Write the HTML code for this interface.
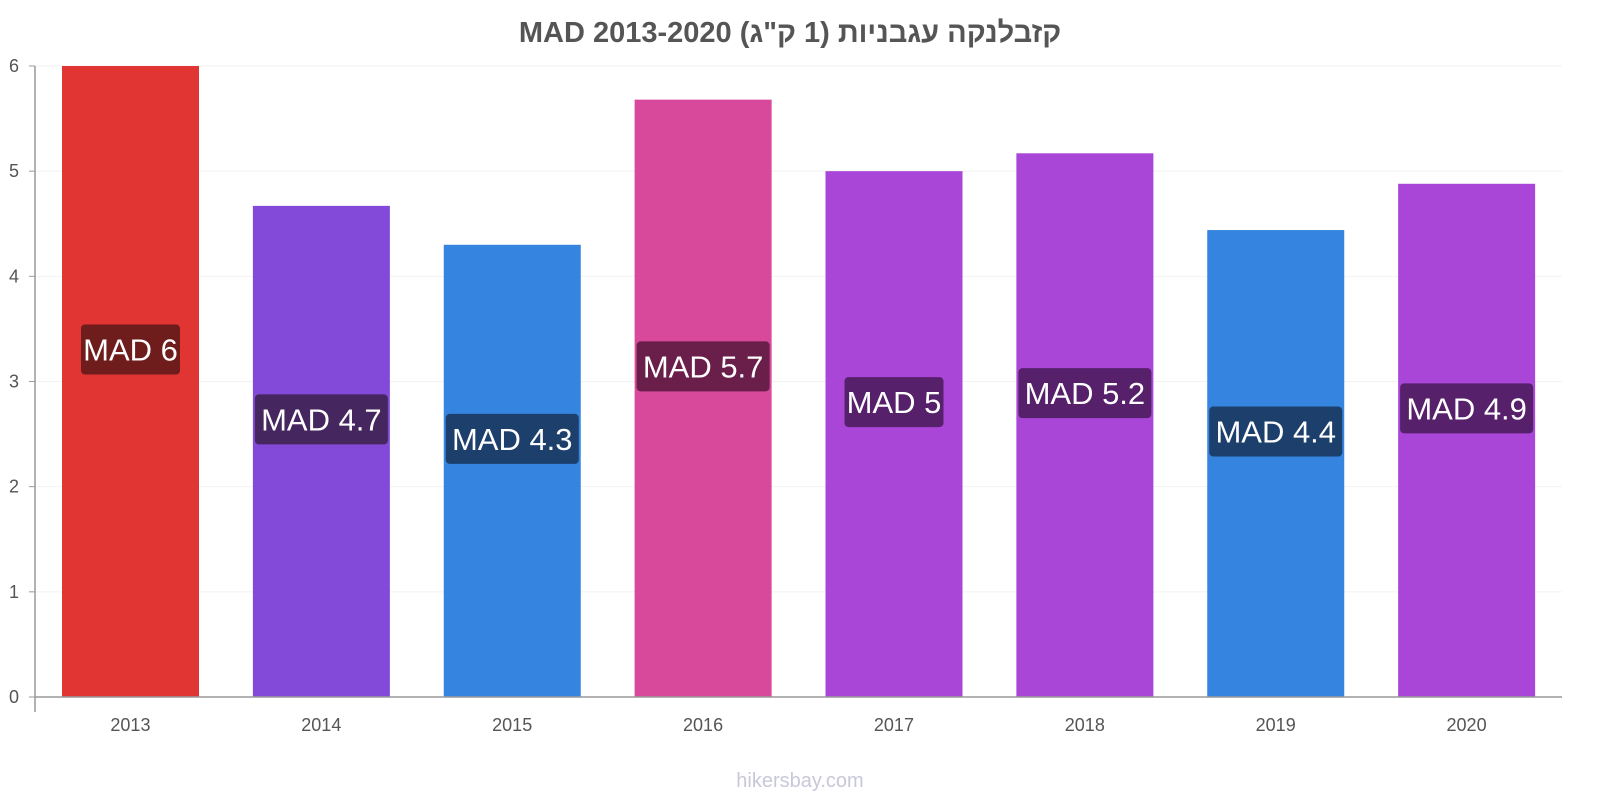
<!DOCTYPE html>
<html><head><meta charset="utf-8"><style>
body{margin:0;background:#fff;width:1600px;height:800px;overflow:hidden;font-family:"Liberation Sans",sans-serif}
</style></head><body>
<svg id="chart" width="1600" height="800" xmlns="http://www.w3.org/2000/svg">
<text x="790" y="42" text-anchor="middle" direction="rtl" font-size="29" font-weight="bold" fill="#555" font-family="Liberation Sans, DejaVu Sans, sans-serif">קזבלנקה עגבניות (1 ק"ג) MAD 2013-2020</text>
<g id="grid"></g><g id="bars"></g><g id="axes"></g>
<text x="800" y="787" text-anchor="middle" font-size="20" fill="#c8c8d8">hikersbay.com</text>
</svg>
<script>
const categories=["2013","2014","2015","2016","2017","2018","2019","2020"];
const values=[6,4.67,4.3,5.68,5.0,5.17,4.44,4.88];
const valueLabels=["MAD 6","MAD 4.7","MAD 4.3","MAD 5.7","MAD 5","MAD 5.2","MAD 4.4","MAD 4.9"];
const barColors=["#e03532","#8349d8","#3584e0","#d8489b","#a946d8","#a946d8","#3584e0","#a946d8"];
const labelColors=["#6e1c1c","#45265f","#1c3f6c","#6a1f4a","#56206b","#56206b","#1c3f6c","#56206b"];
const yTicks=[0,1,2,3,4,5,6];
const NS="http://www.w3.org/2000/svg";
const x0=35,x1=1562,y0=697,yTop=66,yMax=6;
const band=(x1-x0)/categories.length;
const xs=i=>x0+band*i;
const ys=v=>y0-(v/yMax)*(y0-yTop);
function mk(t,a,p){const e=document.createElementNS(NS,t);for(const k in a)e.setAttribute(k,a[k]);p.appendChild(e);return e;}
const grid=document.getElementById('grid'),bars=document.getElementById('bars'),axes=document.getElementById('axes');
yTicks.forEach(t=>{
 const l=mk('line',{x1:x0,x2:x1,y1:ys(t),y2:ys(t),stroke:'#f2f2f2'},grid);
 
 
 const tx=mk('text',{x:19,y:ys(t)+6,'text-anchor':'end','font-size':18,fill:'#555'},axes);
 tx.textContent=t;
 
 
 const tk=mk('line',{x1:x0-6,x2:x0,y1:ys(t),y2:ys(t),stroke:'#999'},axes);
 
 
});
let ax=mk('line',{x1:x0,x2:x0,y1:yTop,y2:712,stroke:'#999','stroke-width':1.5},axes);


ax=mk('line',{x1:x0,x2:x1,y1:y0,y2:y0,stroke:'#999','stroke-width':1.5},axes);


categories.forEach((c,i)=>{
 const bx=xs(i)+27,bw=137,top=ys(values[i]);
 const r=mk('rect',{x:bx,y:top,width:bw,height:y0-top,fill:barColors[i]},bars);
 
 
 const cx=bx+bw/2,cy=(top+y0)/2-32;
 const w=valueLabels[i].length*17+14;
 const lb=mk('rect',{x:cx-w/2,y:cy-25,width:w,height:50,rx:4,fill:labelColors[i]},bars);
 
 
 const lt=mk('text',{x:cx,y:cy+11,'text-anchor':'middle','font-size':31,fill:'#fff'},bars);
 lt.textContent=valueLabels[i];
 
 
 const xt=mk('text',{x:xs(i)+band/2,y:731,'text-anchor':'middle','font-size':18,fill:'#555'},axes);
 xt.textContent=c;
 
 
});
</script>
</body></html>
